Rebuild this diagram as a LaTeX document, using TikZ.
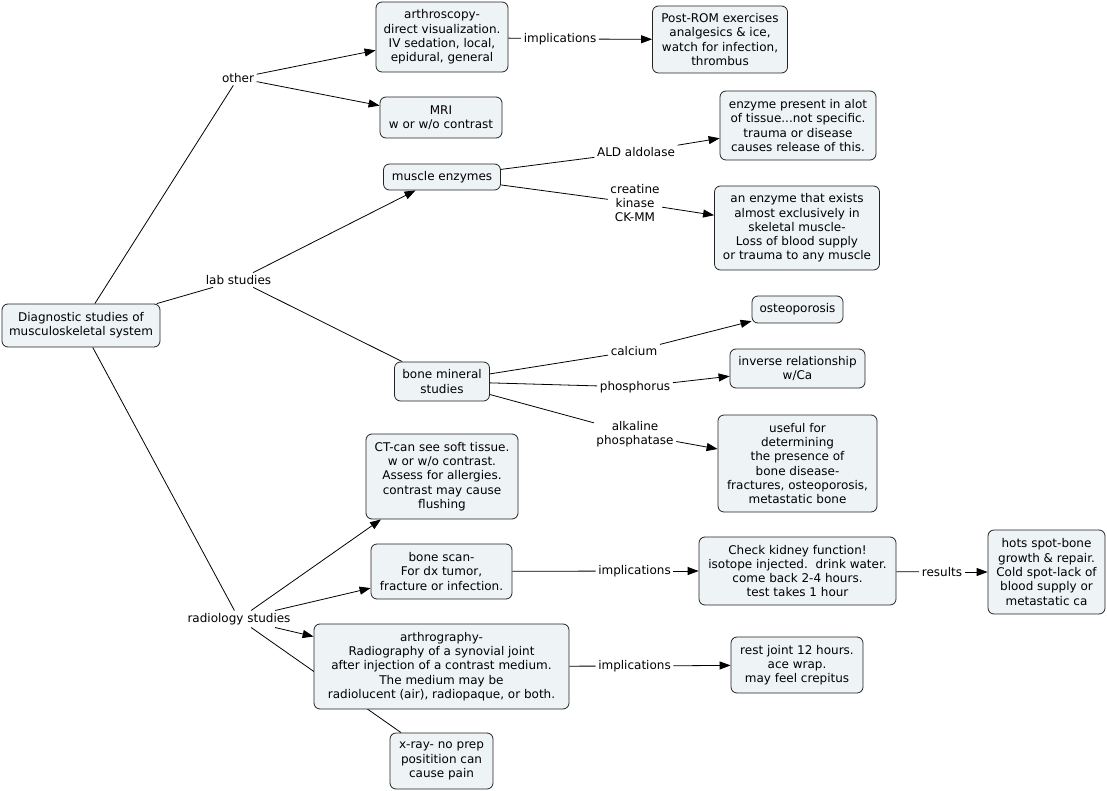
\documentclass[tikz,border=0pt]{standalone}
\usepackage{fontspec}
\setmainfont{DejaVu Sans}
\usetikzlibrary{arrows.meta,backgrounds}
\definecolor{boxfill}{RGB}{238,243,246}
\definecolor{edgecol}{RGB}{35,35,35}
\begin{document}
\begin{tikzpicture}[x=1pt,y=-1pt,
  every node/.style={font=\fontsize{12}{14.3}\selectfont, text=black},
  box/.style={draw=edgecol, fill=boxfill, rounded corners=6pt, align=center, line width=0.8pt, inner sep=2pt},
  lbl/.style={align=center, inner sep=2.5pt},
  conn/.style={draw=black, line width=0.8pt},
  arr/.style={conn, -{Triangle[length=11pt,width=8pt]}}
]
\useasboundingbox (0,0) rectangle (1107,791);

% boxes
\node[box, minimum width=158pt, minimum height=43pt] (root) at (81,325.5) {Diagnostic studies of\\musculoskeletal system};
\node[box, minimum width=132pt, minimum height=70pt] (arth) at (442,37) {arthroscopy-\\direct visualization.\\IV sedation, local,\\epidural, general};
\node[box, minimum width=135pt, minimum height=67pt] (post) at (720,39.5) {Post-ROM exercises\\analgesics \& ice,\\watch for infection,\\thrombus};
\node[box, minimum width=122pt, minimum height=41pt] (mri) at (441,117.5) {MRI\\w or w/o contrast};
\node[box, minimum width=117pt, minimum height=26pt] (muscle) at (442,177) {muscle enzymes};
\node[box, minimum width=156pt, minimum height=69pt] (enz1) at (798,125.5) {enzyme present in alot\\of tissue...not specific.\\trauma or disease\\causes release of this.};
\node[box, minimum width=165pt, minimum height=84pt] (enz2) at (797,228) {an enzyme that exists\\almost exclusively in\\skeletal muscle-\\Loss of blood supply\\or trauma to any muscle};
\node[box, minimum width=95pt, minimum height=39pt] (bone) at (442,381.5) {bone mineral\\studies};
\node[box, minimum width=91pt, minimum height=27pt] (osteo) at (797.5,309.5) {osteoporosis};
\node[box, minimum width=135pt, minimum height=39pt] (inv) at (797.5,368.5) {inverse relationship\\w/Ca};
\node[box, minimum width=159pt, minimum height=97pt] (useful) at (797.5,463.5) {useful for\\determining\\the presence of\\bone disease-\\fractures, osteoporosis,\\metastatic bone};
\node[box, minimum width=152pt, minimum height=85pt] (ct) at (442,476.5) {CT-can see soft tissue.\\w or w/o contrast.\\Assess for allergies.\\contrast may cause\\flushing};
\node[box, minimum width=141pt, minimum height=55pt] (scan) at (441.5,571.5) {bone scan-\\For dx tumor,\\fracture or infection.};
\node[box, minimum width=197pt, minimum height=68pt] (kidney) at (797.5,571) {Check kidney function!\\isotope injected.\ \ drink water.\\come back 2-4 hours.\\test takes 1 hour};
\node[box, minimum width=117pt, minimum height=84pt] (hots) at (1046.5,572) {hots spot-bone\\growth \& repair.\\Cold spot-lack of\\blood supply or\\metastatic ca};
\node[box, minimum width=255pt, minimum height=85pt] (arthro) at (441.5,666.5) {arthrography-\\Radiography of a synovial joint\\after injection of a contrast medium.\\The medium may be\\radiolucent (air), radiopaque, or both.};
\node[box, minimum width=132pt, minimum height=56pt] (rest) at (797,665) {rest joint 12 hours.\\ace wrap.\\may feel crepitus};
\node[box, minimum width=103pt, minimum height=56pt] (xray) at (441.5,761) {x-ray- no prep\\positition can\\cause pain};

% labels
\node[lbl] (other) at (238,78) {other};
\node[lbl] (lab) at (238.5,280) {lab studies};
\node[lbl] (radio) at (239,619) {radiology studies};
\node[lbl] (impl1) at (560,39) {implications};
\node[lbl] (ald) at (636,152) {ALD aldolase};
\node[lbl] (ck) at (635,203) {creatine\\kinase\\CK-MM};
\node[lbl] (calc) at (634,351) {calcium};
\node[lbl] (phos) at (635,387) {phosphorus};
\node[lbl] (alk) at (635,434) {alkaline\\phosphatase};
\node[lbl] (impl2) at (634.5,571) {implications};
\node[lbl] (results) at (942,572) {results};
\node[lbl] (impl3) at (634.5,666) {implications};

% connectors
\begin{scope}[on background layer]
\draw[conn] (root) -- (other);
\draw[arr] (other) -- (arth);
\draw[arr] (other) -- (mri);
\draw[conn] (arth) -- (impl1);
\draw[arr] (impl1) -- (post);
\draw[conn] (root) -- (lab);
\draw[arr] (lab) -- (muscle);
\draw[conn] (lab) -- (bone);
\draw[conn] (muscle) -- (ald);
\draw[arr] (ald) -- (enz1);
\draw[conn] (muscle) -- (ck);
\draw[arr] (ck) -- (enz2);
\draw[conn] (bone) -- (calc);
\draw[arr] (calc) -- (osteo);
\draw[conn] (bone) -- (phos);
\draw[arr] (phos) -- (inv);
\draw[conn] (bone) -- (alk);
\draw[arr] (alk) -- (useful);
\draw[conn] (root) -- (radio);
\draw[arr] (radio) -- (ct);
\draw[arr] (radio) -- (scan);
\draw[arr] (radio) -- (arthro);
\draw[conn] (radio) -- (xray);
\draw[conn] (scan) -- (impl2);
\draw[arr] (impl2) -- (kidney);
\draw[conn] (kidney) -- (results);
\draw[arr] (results) -- (hots);
\draw[conn] (arthro) -- (impl3);
\draw[arr] (impl3) -- (rest);
\end{scope}
\end{tikzpicture}
\end{document}
